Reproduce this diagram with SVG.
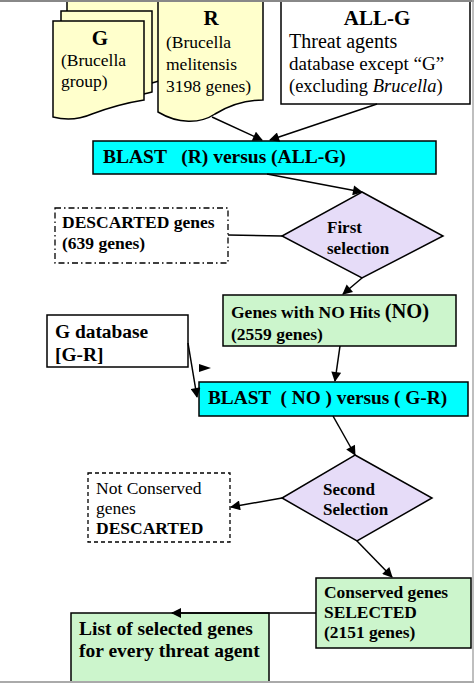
<svg xmlns="http://www.w3.org/2000/svg" width="474" height="683" viewBox="0 0 474 683">
<style>
text{font-family:"Liberation Serif","Times New Roman",serif;fill:#000}
.b{font-weight:bold}
.doc{fill:#ffffcc;stroke:#000;stroke-width:1.5}
.box{stroke:#000;stroke-width:1.5}
.ln{stroke:#000;stroke-width:1.5;fill:none}
</style>
<defs>
<marker id="ah" viewBox="0 0 10 10" refX="9" refY="5" markerWidth="11" markerHeight="10" markerUnits="userSpaceOnUse" orient="auto">
<path d="M0,0 L10,5 L0,10 Z" fill="#000"/>
</marker>
</defs>
<rect width="474" height="683" fill="#fff"/>
<g id="G">
<path class="doc" d="M67,-2 H162 V80 C150,84 140,86 130,88 L67,88 Z"/>
<path class="doc" d="M61,11 H152 V92 C135,96 115,100 100,106 C85,112 72,110 61,107 Z"/>
<path class="doc" d="M53,21 H144 V100 C125,103 108,108 92,114 C78,120 64,120 53,117 Z"/>
<text x="100" y="45" class="b" font-size="21" text-anchor="middle">G</text>
<text x="61" y="66" font-size="17.5">(Brucella</text>
<text x="61" y="87" font-size="17.5">group)</text>
</g>
<g id="R">
<path class="doc" d="M158,-3 H263 V100 C245,100 228,106 215,114 C200,124 178,124 158,112 Z"/>
<text x="211" y="25" class="b" font-size="21" text-anchor="middle">R</text>
<text x="166" y="48" font-size="17.5">(Brucella</text>
<text x="166" y="70" font-size="17.5">melitensis</text>
<text x="166" y="92" font-size="17.5">3198 genes)</text>
</g>
<g id="ALLG">
<rect class="box" x="281" y="-3" width="189" height="107" fill="#fff"/>
<text x="377" y="25" class="b" font-size="21" text-anchor="middle">ALL-G</text>
<text x="289" y="48" font-size="20">Threat agents</text>
<text x="289" y="70" font-size="19">database except “G”</text>
<text x="289" y="92" font-size="18.5">(excluding <tspan font-style="italic">Brucella</tspan>)</text>
</g>
<g id="blast1">
<rect class="box" x="93" y="141" width="343" height="33" fill="#00ffff"/>
<text x="103" y="163" class="b" font-size="19.5" xml:space="preserve">BLAST   (R) versus (ALL-G)</text>
</g>
<g id="descarted1">
<rect x="55" y="208" width="173" height="55" fill="#fff" stroke="#000" stroke-width="1.3" stroke-dasharray="6,3,1.5,3"/>
<text x="62" y="228" class="b" font-size="17.5">DESCARTED genes</text>
<text x="62" y="249" class="b" font-size="17.5">(639 genes)</text>
</g>
<g id="first">
<polygon class="box" points="362,192 443,236 362,278 282,236" fill="#e6dcf8"/>
<text x="327" y="233" class="b" font-size="17">First</text>
<text x="327" y="254" class="b" font-size="17">selection</text>
</g>
<g id="nohits">
<rect class="box" x="223" y="295" width="233" height="51" fill="#ccf5cc"/>
<text x="231" y="318" class="b" font-size="17.5">Genes with NO Hits <tspan font-size="20.5">(NO)</tspan></text>
<text x="231" y="340" class="b" font-size="17.5">(2559 genes)</text>
</g>
<g id="gdb">
<rect class="box" x="47" y="315" width="141" height="52" fill="#fff"/>
<text x="55" y="338" class="b" font-size="19.4">G database</text>
<text x="55" y="361" class="b" font-size="19.4">[G-R]</text>
</g>
<g id="blast2">
<rect class="box" x="199" y="382" width="269" height="34" fill="#00ffff"/>
<text x="208" y="404" class="b" font-size="19.3" xml:space="preserve">BLAST  ( NO ) versus ( G-R)</text>
</g>
<g id="second">
<polygon class="box" points="355,455 432,498 357,541 282,498" fill="#e6dcf8"/>
<text x="323" y="495" class="b" font-size="17">Second</text>
<text x="323" y="515" class="b" font-size="17">Selection</text>
</g>
<g id="notconserved">
<rect x="88" y="473" width="142" height="69" fill="#fff" stroke="#000" stroke-width="1.3" stroke-dasharray="4,3"/>
<text x="96" y="494" font-size="17.5">Not Conserved</text>
<text x="96" y="514" font-size="17.5">genes</text>
<text x="96" y="534" class="b" font-size="17.5">DESCARTED</text>
</g>
<g id="conserved">
<rect class="box" x="316" y="578" width="155" height="70" fill="#ccf5cc"/>
<text x="324" y="598" class="b" font-size="17.4">Conserved genes</text>
<text x="324" y="618" class="b" font-size="17.4">SELECTED</text>
<text x="324" y="638" class="b" font-size="17.4">(2151 genes)</text>
</g>
<g id="list">
<rect class="box" x="71" y="613" width="198" height="72" fill="#ccf5cc"/>
<text x="79" y="635" class="b" font-size="19.5">List of selected genes</text>
<text x="79" y="657" class="b" font-size="19.5">for every threat agent</text>
</g>
<g id="connectors">
<line class="ln" x1="212" y1="117" x2="262" y2="140" marker-end="url(#ah)"/>
<line class="ln" x1="377" y1="104" x2="270" y2="140" marker-end="url(#ah)"/>
<line class="ln" x1="267" y1="174" x2="362" y2="192" marker-end="url(#ah)"/>
<line class="ln" x1="228" y1="235" x2="282" y2="236"/>
<line class="ln" x1="362" y1="278" x2="343" y2="294" marker-end="url(#ah)"/>
<line class="ln" x1="340" y1="346" x2="335" y2="381" marker-end="url(#ah)"/>
<line class="ln" x1="188" y1="343" x2="197" y2="397" marker-end="url(#ah)"/>
<polygon points="199,364 211,368 199,372" fill="#000"/>
<line class="ln" x1="333" y1="416" x2="355" y2="455" marker-end="url(#ah)"/>
<line class="ln" x1="282" y1="498" x2="231" y2="507" marker-end="url(#ah)"/>
<line class="ln" x1="357" y1="541" x2="392" y2="577" marker-end="url(#ah)"/>
<line class="ln" x1="316" y1="613" x2="172" y2="613" marker-end="url(#ah)"/>
</g>
<line x1="0" y1="1" x2="474" y2="1" stroke="#888" stroke-width="2"/>
<line x1="0" y1="682" x2="474" y2="682" stroke="#aaa" stroke-width="2"/>
<line x1="473" y1="0" x2="473" y2="683" stroke="#aaa" stroke-width="1.5"/>
</svg>
